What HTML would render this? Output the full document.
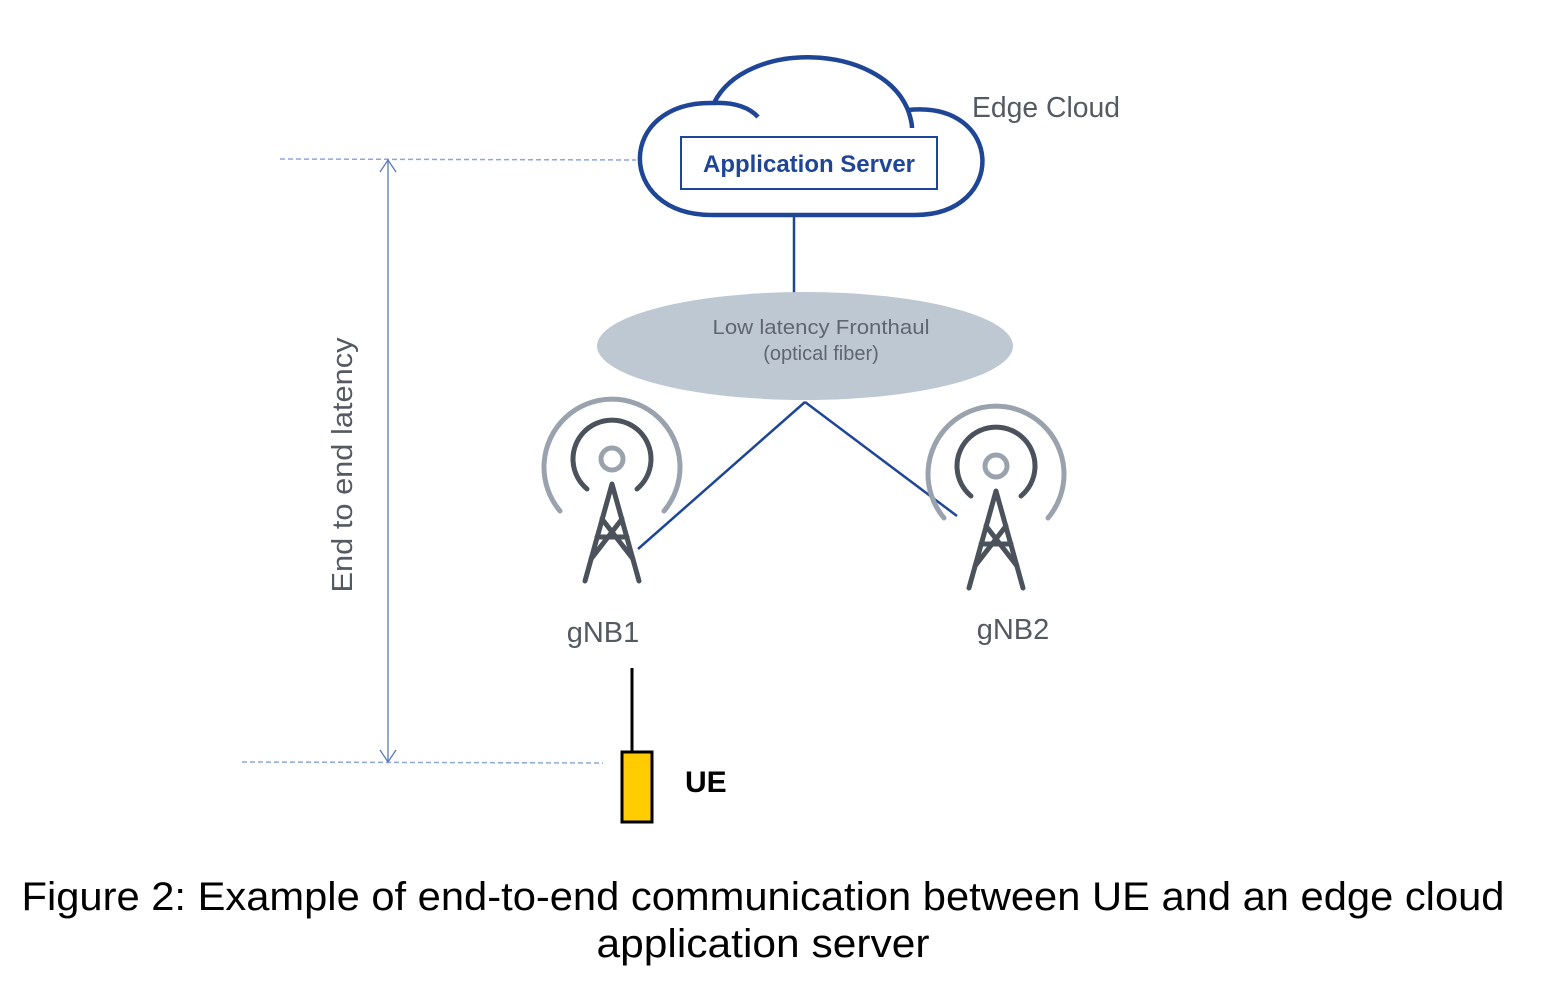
<!DOCTYPE html>
<html><head><meta charset="utf-8"><style>
html,body{margin:0;padding:0;background:#fff;}
svg{display:block;}
</style></head><body>
<svg width="1550" height="988" viewBox="0 0 1550 988" xmlns="http://www.w3.org/2000/svg" font-family="Liberation Sans, DejaVu Sans, sans-serif">
<line x1="280" y1="159" x2="636" y2="160" stroke="#8ea6d9" stroke-width="1.5" stroke-dasharray="5,3"/>
<line x1="242" y1="762" x2="603" y2="763" stroke="#8ea6d9" stroke-width="1.5" stroke-dasharray="5,3"/>
<line x1="388" y1="160" x2="388" y2="762" stroke="#5a78c0" stroke-width="1.3"/>
<polyline points="380,172 388,160 396,172" fill="none" stroke="#5a78c0" stroke-width="1.3"/>
<polyline points="380,750 388,762 396,750" fill="none" stroke="#5a78c0" stroke-width="1.3"/>
<text transform="translate(352,465) rotate(-90)" text-anchor="middle" font-size="29" fill="#555a62" textLength="255" lengthAdjust="spacingAndGlyphs">End to end latency</text>
<path d="M712,215 C615,215 616,100 714,103 C745,40 880,42 908,110 C1004,100 1008,215 915,215 Z" fill="#fff" stroke="#1f4696" stroke-width="4.5"/>
<path d="M714,103 C735,102 750,108 758,117" fill="none" stroke="#1f4696" stroke-width="4.5"/>
<path d="M908,110 C910,116 912,122 912,128" fill="none" stroke="#1f4696" stroke-width="4.5"/>
<rect x="681" y="137" width="256" height="52" fill="#fff" stroke="#1f4696" stroke-width="2"/>
<text x="809" y="172" text-anchor="middle" font-size="24" font-weight="bold" fill="#1f4696" textLength="212" lengthAdjust="spacingAndGlyphs">Application Server</text>
<text x="972" y="117" font-size="29" fill="#555a62" textLength="148" lengthAdjust="spacingAndGlyphs">Edge Cloud</text>
<line x1="794" y1="215" x2="794" y2="294" stroke="#1f4696" stroke-width="2.5"/>
<ellipse cx="805" cy="346" rx="208" ry="54" fill="#bec8d3"/>
<text x="821" y="334" text-anchor="middle" font-size="20" fill="#5f6670" textLength="217" lengthAdjust="spacingAndGlyphs">Low latency Fronthaul</text>
<text x="821" y="360" text-anchor="middle" font-size="20" fill="#5f6670">(optical fiber)</text>
<line x1="805" y1="402" x2="638" y2="549" stroke="#1f4696" stroke-width="2.5"/>
<line x1="805" y1="402" x2="957" y2="516" stroke="#1f4696" stroke-width="2.5"/>
<g transform="translate(612,459)" fill="none" stroke-linecap="round">
<circle r="11" stroke="#9aa3ad" stroke-width="5"/>
<path d="M-25,30 A39,39 0 1 1 25,30" stroke="#4b525c" stroke-width="5"/>
<path d="M-52,52 A68,68 0 1 1 52,52" stroke="#9aa3ad" stroke-width="5"/>
<g stroke="#4b525c" stroke-width="5" stroke-linejoin="round">
<polyline points="-27,122 0,25 27,122"/>
<line x1="-10" y1="60" x2="21" y2="100"/>
<line x1="10" y1="60" x2="-21" y2="100"/>
<line x1="-15" y1="78" x2="15" y2="78"/>
</g>
</g>
<g transform="translate(996,466)" fill="none" stroke-linecap="round">
<circle r="11" stroke="#9aa3ad" stroke-width="5"/>
<path d="M-25,30 A39,39 0 1 1 25,30" stroke="#4b525c" stroke-width="5"/>
<path d="M-52,52 A68,68 0 1 1 52,52" stroke="#9aa3ad" stroke-width="5"/>
<g stroke="#4b525c" stroke-width="5" stroke-linejoin="round">
<polyline points="-27,122 0,25 27,122"/>
<line x1="-10" y1="60" x2="21" y2="100"/>
<line x1="10" y1="60" x2="-21" y2="100"/>
<line x1="-15" y1="78" x2="15" y2="78"/>
</g>
</g>
<text x="603" y="642" text-anchor="middle" font-size="29" fill="#555a62">gNB1</text>
<text x="1013" y="639" text-anchor="middle" font-size="29" fill="#555a62">gNB2</text>
<line x1="632" y1="668" x2="632" y2="755" stroke="#000" stroke-width="3"/>
<rect x="622" y="752" width="30" height="70" fill="#ffcc00" stroke="#000" stroke-width="3"/>
<text x="685" y="792" font-size="30" font-weight="bold" fill="#000">UE</text>
<text x="763" y="910" text-anchor="middle" font-size="40" fill="#000" textLength="1483" lengthAdjust="spacingAndGlyphs">Figure 2: Example of end-to-end communication between UE and an edge cloud</text>
<text x="763" y="957" text-anchor="middle" font-size="40" fill="#000" textLength="333" lengthAdjust="spacingAndGlyphs">application server</text>
</svg>
</body></html>
